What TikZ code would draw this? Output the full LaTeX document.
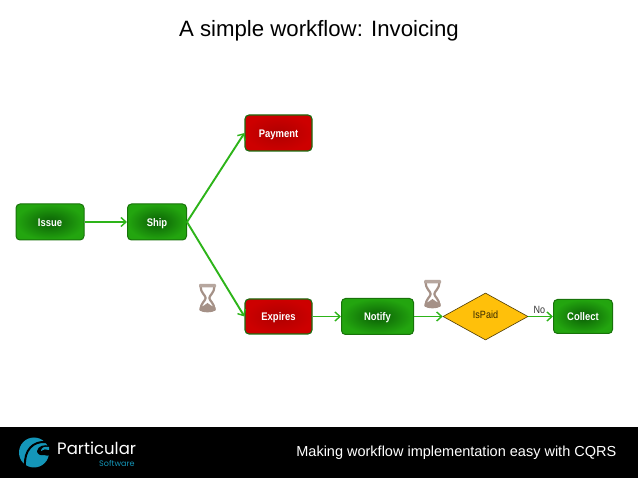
\documentclass[tikz,border=0pt]{standalone}
\usepackage{graphicx}
\usepackage{fontspec}
\setmainfont{Liberation Sans}
\newfontfamily\logofont{Poppins}
\usetikzlibrary{shapes.geometric,arrows.meta,shadings}
\definecolor{flow}{RGB}{45,180,25}
\definecolor{gOut}{RGB}{35,165,15}
\definecolor{gIn}{RGB}{10,95,5}
\definecolor{rOut}{RGB}{205,0,0}
\definecolor{rIn}{RGB}{175,0,0}
\definecolor{amber}{RGB}{255,192,10}
\definecolor{teal}{RGB}{20,150,185}
\definecolor{glass}{RGB}{165,145,135}
\newcommand{\narrowlabel}[1]{\raisebox{-4.5pt}[0pt][0pt]{\scalebox{.86}[1]{#1}}}
\tikzset{
  box/.style={rounded corners=4pt,inner sep=0pt,font=\bfseries\fontsize{11}{13}\selectfont,text=white,anchor=center},
  greenbox/.style={box,draw=gOut!70!black,line width=1pt,shade,inner color=gIn,outer color=gOut},
  redbox/.style={box,draw=flow!60!black,line width=1.1pt,shade,inner color=rIn,outer color=rOut},
  flowline/.style={draw=flow,line width=1.9pt,-{Straight Barb[length=5pt,width=9pt,line width=1.4pt]}},
  decision/.style={diamond,aspect=1.8,draw=black!70!amber,line width=.6pt,fill=amber,inner sep=0pt},
  plainlabel/.style={font=\fontsize{10.5}{12}\selectfont,text=black!80!amber},
  hourglass/.pic={
    \draw[glass,line width=2.2pt,line join=round] (-7,-12) .. controls (-7,-5) and (-2,-3) .. (-1.8,0) .. controls (-2,3) and (-7,5) .. (-7,12);
    \draw[glass,line width=2.2pt,line join=round] (7,-12) .. controls (7,-5) and (2,-3) .. (1.8,0) .. controls (2,3) and (7,5) .. (7,12);
    \fill[glass!80!white,rounded corners=1pt] (-8.5,-14) rectangle (8.5,-10.5);
    \fill[glass] (-8,9.5) .. controls (-5,7.5) and (-1.5,7.5) .. (0,5) .. controls (1.5,7.5) and (5,7.5) .. (8,9.5) -- (8,12.5) .. controls (4,15) and (-4,15) .. (-8,12.5) -- cycle;
  }
}
\begin{document}
\begin{tikzpicture}[x=1pt,y=-1pt]
\useasboundingbox (0,0) rectangle (638,478);
\fill[white] (0,0) rectangle (638,478);
\fill[black] (0,427) rectangle (638,478);
\node[font=\fontsize{22.2}{27}\selectfont,text=black] (title) at (319,31) {A simple workflow: Invoicing};

\node[greenbox,minimum width=68pt,minimum height=36pt] (issue) at (50,222) {\narrowlabel{Issue}};
\node[greenbox,minimum width=59pt,minimum height=36pt] (ship) at (157,222) {\narrowlabel{Ship}};
\node[redbox,minimum width=67pt,minimum height=36pt] (payment) at (278.5,133) {\narrowlabel{Payment}};
\node[redbox,minimum width=67pt,minimum height=35pt] (expires) at (278.5,316.5) {\narrowlabel{Expires}};
\node[greenbox,minimum width=72pt,minimum height=36pt] (notify) at (377.5,316.5) {\narrowlabel{Notify}};
\node[decision,minimum width=85pt,minimum height=47pt] (ispaid) at (485.5,316.5) {};
\node[plainlabel] (ispaidlabel) at (485.5,314) {\narrowlabel{IsPaid}};
\node[greenbox,minimum width=59pt,minimum height=34pt] (collect) at (583,316.5) {\narrowlabel{Collect}};

\draw[flowline] (issue.east) -- (ship.west);
\draw[flowline] (ship.east) -- (payment.west);
\draw[flowline] (ship.east) -- (expires.west);
\draw[flowline] (expires.east) -- (notify.west);
\draw[flowline] (notify.east) -- (ispaid.west);
\draw[flowline] (ispaid.east) -- node[above,plainlabel,text=black!80,inner sep=1.5pt,pos=.45] (nolabel) {\scalebox{.86}[1]{No}} (collect.west);

\pic at (207.5,298) {hourglass};
\pic at (432.5,294) {hourglass};

% footer
\node[font=\fontsize{14.5}{17}\selectfont,text=white,anchor=east,inner sep=0pt] (tagline) at (616.5,452.5) {Making workflow implementation easy with CQRS};
\fill[teal] (34,452.5) circle (15);
\draw[black,line width=2pt] (25,466) .. controls (24,450) and (33,441) .. (46,442);
\fill[black] (50,446) .. controls (44,444) and (38,446) .. (37,451) .. controls (37,454) and (40,456) .. (44,455) .. controls (46,456) and (49,456) .. (50,455) -- cycle;
\fill[teal] (49,447) .. controls (44,446) and (41,448) .. (41,451) .. controls (43,449) and (46,449) .. (49,450) -- cycle;
\node[font=\logofont\fontsize{16.5}{20}\selectfont,text=white,anchor=west,inner sep=0pt] (brand) at (57,448) {Particular};
\node[font=\logofont\fontsize{8}{10}\selectfont,text=teal,anchor=west,inner sep=0pt] (soft) at (99,463) {Software};
\end{tikzpicture}
\end{document}
